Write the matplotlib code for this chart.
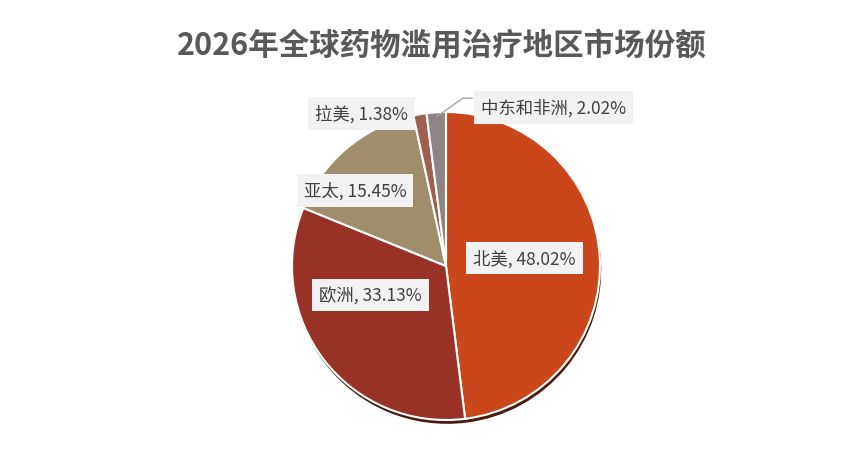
import matplotlib
matplotlib.use("Agg")
import matplotlib.pyplot as plt

plt.rcParams['font.family'] = ['Noto Sans CJK SC', 'DejaVu Sans']

# 数据
regions = ["北美", "欧洲", "亚太", "拉美", "中东和非洲"]
shares = [48.02, 33.13, 15.45, 1.38, 2.02]
colors = ["#C9471B", "#983126", "#A08D6C", "#9E6050", "#8E8486"]
title = "2026年全球药物滥用治疗地区市场份额"

# 标签位置（以饼图半径为单位）
label_pos = [(0.51, 0.05), (-0.49, -0.19), (-0.59, 0.49), (-0.55, 0.99), (0.70, 1.03)]

W, H = 865, 464
scale = 154.0          # 每个半径单位的像素
cx, cy = 446, 267      # 饼图中心（像素，自顶部计）

fig = plt.figure(figsize=(W / 100, H / 100), dpi=100)
ax = fig.add_axes([0, 0, 1, 1])

# 阴影
ax.pie(shares, startangle=90, counterclock=False, radius=1.0,
       center=(0.008, -0.025), colors=["#4A1A0E"] * len(shares),
       wedgeprops=dict(linewidth=0), frame=True)

wedges, _ = ax.pie(shares, startangle=90, counterclock=False, radius=1.0,
                   colors=colors, frame=True,
                   wedgeprops=dict(edgecolor='white', linewidth=1.5))
ax.set_xlim(-cx / scale, (W - cx) / scale)
ax.set_ylim(-(H - cy) / scale, cy / scale)
ax.axis('off')

box = dict(boxstyle='square,pad=0.4', facecolor='#F2F2F2', edgecolor='none')
for name, val, (lx, ly) in zip(regions, shares, label_pos):
    ax.text(lx, ly, f"{name}, {val:.2f}%", ha='center', va='center',
            fontsize=12.5, color='#404040', bbox=box, zorder=5)

# 中东和非洲 引导线
ax.plot([-0.06, 0.11, 0.17], [0.97, 1.09, 1.09], color='#A6A6A6', lw=1, zorder=4)

fig.text(0.511, 0.899, title, ha='center', va='center', fontsize=22,
         fontweight='bold', color='#595959')

fig.savefig("out.png", dpi=100)
